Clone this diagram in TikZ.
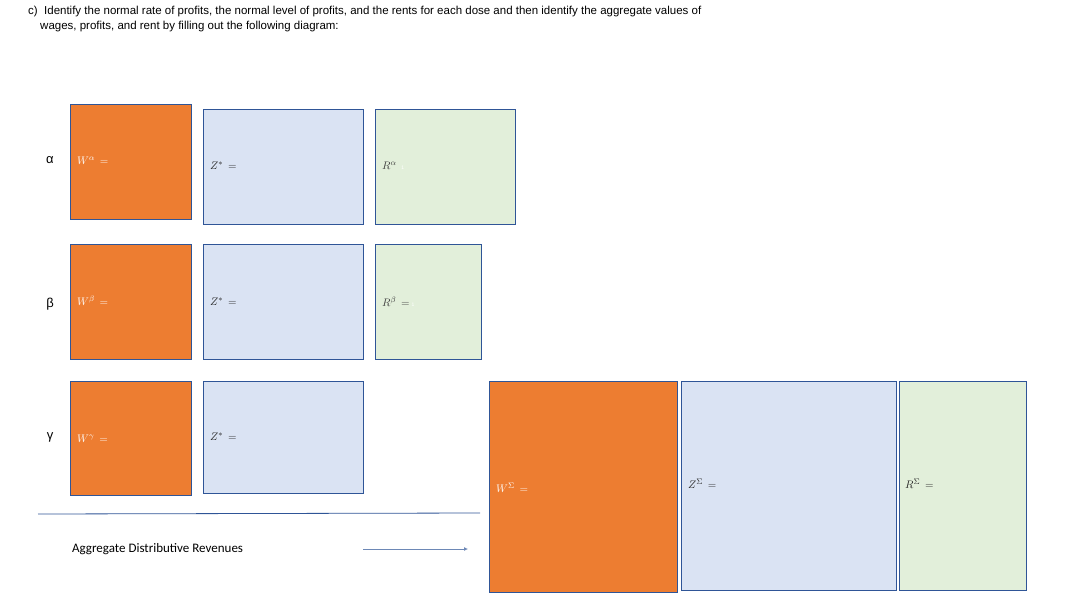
\documentclass[tikz,border=0pt]{standalone}
\usepackage{fontspec}
\usetikzlibrary{arrows.meta}
\setmainfont{Liberation Sans}
\newfontfamily\calib{Carlito}
\definecolor{org}{HTML}{ED7D31}
\definecolor{lblue}{HTML}{DAE3F3}
\definecolor{lgreen}{HTML}{E2EFDA}
\definecolor{edge}{HTML}{2F5597}
\definecolor{txt}{HTML}{262626}
\begin{document}
\begin{tikzpicture}[x=1pt,y=-1pt,
  bx/.style={draw=edge,line width=0.8pt},
  wlab/.style={anchor=west,text=white,font=\fontsize{11}{12}\selectfont,inner sep=0},
  dlab/.style={anchor=west,text=txt,font=\fontsize{11}{12}\selectfont,inner sep=0},
  glab/.style={anchor=west,text=black!75,font=\fontsize{11}{12}\selectfont,inner sep=0},
  rowlab/.style={anchor=center,font=\fontsize{13}{14}\selectfont,inner sep=0}]
\useasboundingbox (0,0) rectangle (1083,610);
\node[anchor=north west,align=left,font=\fontsize{11.5}{15}\selectfont,inner sep=0] (hdr) at (28,6)
 {c)\ \ Identify the normal rate of profits, the normal level of profits, and the rents for each dose and then identify the aggregate values of\\
 \hspace*{12pt}wages, profits, and rent by filling out the following diagram:};
% row alpha
\draw[bx,fill=org] (70,104) rectangle (191,219);
\draw[bx,fill=lblue] (203,109) rectangle (363,224);
\draw[bx,fill=lgreen] (375,109) rectangle (515,224);
\node[rowlab] (la) at (50,160) {α};
\node[wlab] (wa) at (77,161) {$W^{\alpha}\,=$};
\node[dlab] (za) at (210,166) {$Z^{*}\,=$};
\node[glab] (ra) at (382,166) {$R^{\alpha}$\ \,\textcolor{white}{\tiny 1}};
% row beta
\draw[bx,fill=org] (70,244) rectangle (191,359);
\draw[bx,fill=lblue] (203,244) rectangle (363,359);
\draw[bx,fill=lgreen] (375,244) rectangle (481,359);
\node[rowlab] (lb) at (50,304) {β};
\node[wlab] (wb) at (77,301) {$W^{\beta}\,=$};
\node[dlab] (zb) at (210,302) {$Z^{*}\,=$};
\node[glab] (rb) at (382,302) {$R^{\beta}\,=$\,\textcolor{white}{\tiny 1}};
% row gamma
\draw[bx,fill=org] (70,381) rectangle (191,495);
\draw[bx,fill=lblue] (203,381) rectangle (363,493);
\node[rowlab] (lg) at (50,437) {γ};
\node[wlab] (wg) at (77,439) {$W^{\gamma}\,=$};
\node[dlab] (zg) at (210,437) {$Z^{*}\,=$};
% aggregate
\draw[bx,fill=org] (489,381) rectangle (677,592);
\draw[bx,fill=lblue] (681,381) rectangle (896,590);
\draw[bx,fill=lgreen] (899,381) rectangle (1026,590);
\node[wlab] (ws) at (496,488) {$W^{\Sigma}\,=$};
\node[dlab] (zs) at (688,484) {$Z^{\Sigma}\,=$};
\node[dlab] (rs) at (905,484) {$R^{\Sigma}\,=$};
\draw[edge,line width=0.8pt] (38,514) -- (480,513);
\node[anchor=west,font=\calib\fontsize{13}{15}\selectfont,inner sep=0] (agg) at (72,549) {Aggregate Distributive Revenues};
\coordinate (as) at (363,549);
\coordinate (ae) at (468,549);
\draw[edge!70,line width=0.8pt,-{Latex[length=4pt,width=4pt]}] (as) -- (ae);
\end{tikzpicture}
\end{document}
